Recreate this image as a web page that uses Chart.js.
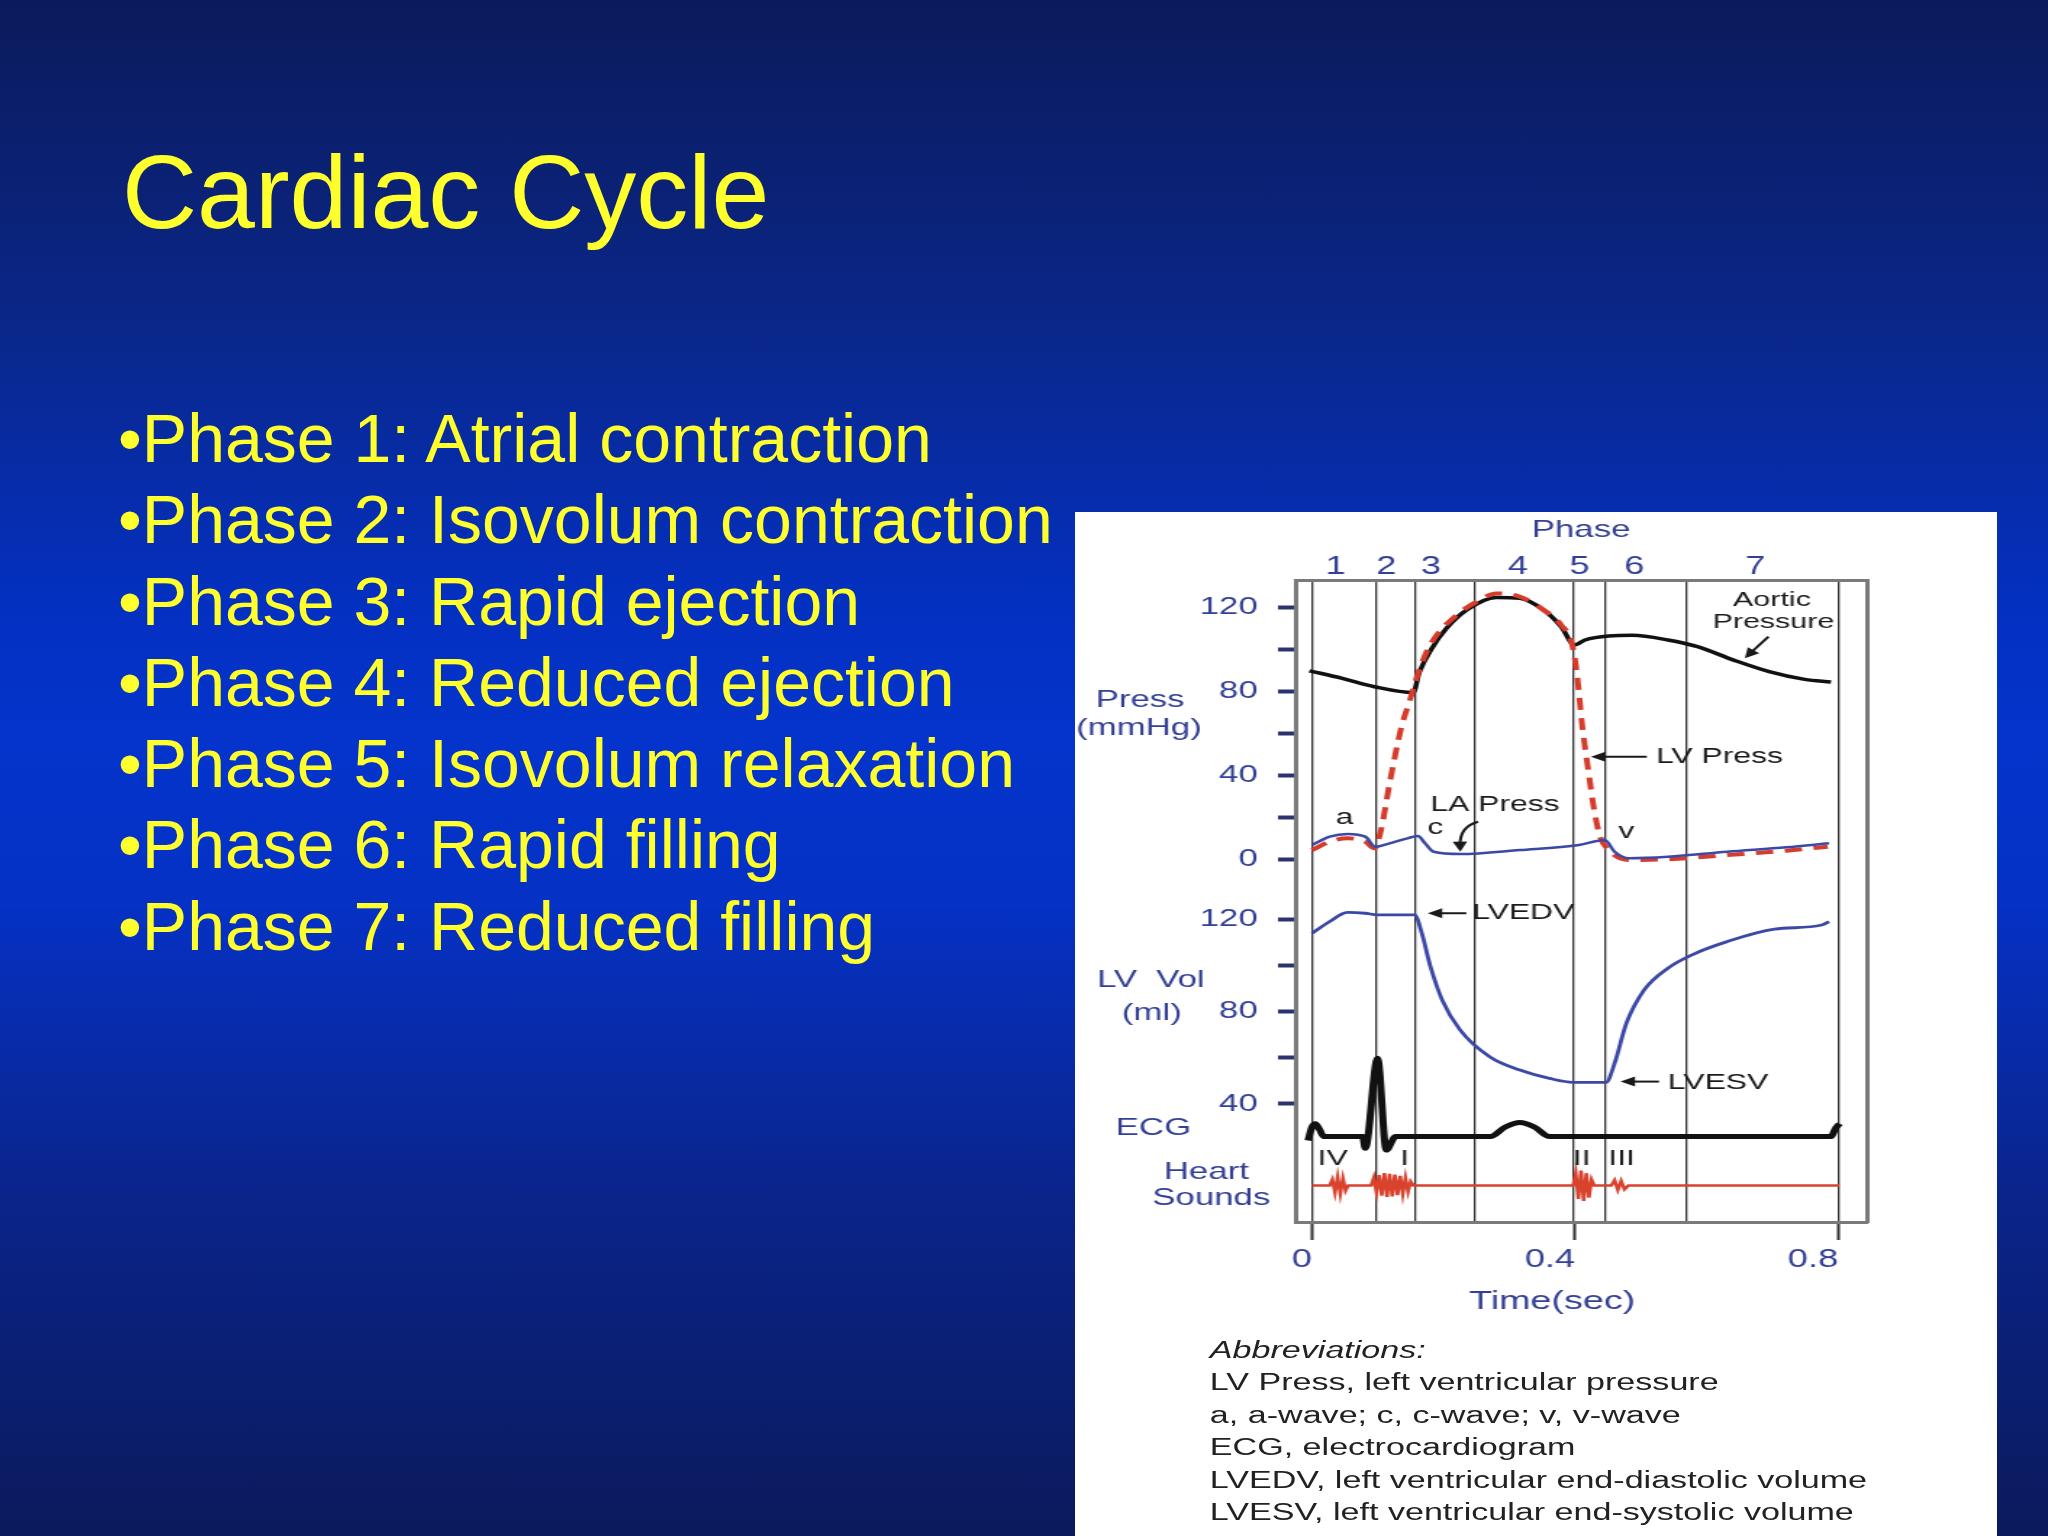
<!DOCTYPE html>
<html>
<head>
<meta charset="utf-8">
<title>Cardiac Cycle</title>
<script src="https://cdn.jsdelivr.net/npm/chart.js@4.4.1/dist/chart.umd.min.js"></script>
<style>
  html, body { margin: 0; padding: 0; }
  body {
    width: 2048px; height: 1536px; overflow: hidden; position: relative;
    background: linear-gradient(to bottom, #0b1a5b 0%, #0a2686 20%, #0430c0 39%, #0434cc 48%, #0531c4 59%, #0a248a 78%, #0b1a5c 100%);
    font-family: 'Liberation Sans', Arial, sans-serif;
  }
  #title { position: absolute; left: 122px; top: 140px; font-size: 104px; line-height: 104px; color: #ffff2e; }
  #phases { position: absolute; left: 118px; top: 398px; font-size: 68px; line-height: 81.3px; color: #ffff2e; white-space: nowrap; }
  #panel { position: absolute; left: 1075px; top: 512px; width: 922px; height: 1024px; background: #fff; overflow: hidden; }
  /* the original figure is a horizontally stretched bitmap */
  #stretch { position: absolute; left: 0; top: 0; width: 636px; height: 1024px; transform: scaleX(1.45); transform-origin: 0 0; }
  #chartBox { position: absolute; left: 0; top: 0; width: 636px; height: 820px; }
  #abbrev { position: absolute; left: 93px; top: 822px; font-size: 23.5px; line-height: 32.4px; color: #222; white-space: nowrap; }
  #abbrev i { font-style: italic; }
</style>
</head>
<body>
<div id="title">Cardiac Cycle</div>
<div id="phases">
  <div>•Phase 1: Atrial contraction</div>
  <div>•Phase 2: Isovolum contraction</div>
  <div>•Phase 3: Rapid ejection</div>
  <div>•Phase 4: Reduced ejection</div>
  <div>•Phase 5: Isovolum relaxation</div>
  <div>•Phase 6: Rapid filling</div>
  <div>•Phase 7: Reduced filling</div>
</div>
<div id="panel">
  <div id="stretch">
    <div id="chartBox"><canvas id="cycleChart"></canvas></div>
    <div id="abbrev">
      <i>Abbreviations:</i><br>
      LV Press, left ventricular pressure<br>
      a, a-wave; c, c-wave; v, v-wave<br>
      ECG, electrocardiogram<br>
      LVEDV, left ventricular end-diastolic volume<br>
      LVESV, left ventricular end-systolic volume
    </div>
  </div>
</div>

<script>
// time axis (sec)
const timeTicks = [0, 0.4, 0.8];
const phaseBounds = [0, 0.097, 0.156, 0.248, 0.397, 0.446, 0.570, 0.800];
const phaseNames = ['1', '2', '3', '4', '5', '6', '7'];
const phaseLabelAt = [0.036, 0.113, 0.181, 0.313, 0.407, 0.490, 0.674];
const pressTicks = [0, 20, 40, 60, 80, 100, 120];
const volTicks = [40, 60, 80, 100, 120];

// aortic pressure (mmHg)
const aorticTime = [-0.004, 0.046, 0.095, 0.154, 0.163, 0.181, 0.204, 0.235, 0.280, 0.316, 0.352, 0.379, 0.399, 0.415, 0.451, 0.487, 0.541, 0.586, 0.641, 0.695, 0.749, 0.789];
const aorticPress = [89.9, 86.3, 82.3, 79.5, 89.0, 100.0, 110.0, 118.9, 124.9, 124.5, 118.9, 110.9, 102.2, 104.6, 106.5, 106.8, 104.6, 101.4, 95.0, 89.5, 85.8, 84.6];

// left ventricular pressure (mmHg)
const lvTime = [0.0, 0.027, 0.054, 0.081, 0.095, 0.105, 0.118, 0.136, 0.149, 0.163, 0.181, 0.217, 0.253, 0.280, 0.316, 0.352, 0.379, 0.395, 0.402, 0.411, 0.420, 0.429, 0.438, 0.451, 0.482, 0.541, 0.631, 0.721, 0.784];
const lvPress = [4.4, 8.4, 10.0, 8.4, 5.2, 14.0, 36.2, 63.2, 76.0, 90.3, 103.0, 115.7, 123.3, 126.8, 125.2, 118.9, 111.7, 103.0, 90.3, 63.2, 42.6, 23.5, 10.8, 4.4, -0.3, 0.0, 2.0, 4.1, 6.0];

// left atrial pressure (mmHg)
const laTime = [0, 0.027, 0.054, 0.081, 0.096, 0.118, 0.145, 0.161, 0.172, 0.185, 0.226, 0.316, 0.406, 0.445, 0.460, 0.482, 0.541, 0.631, 0.721, 0.786];
const laPress = [6.8, 10.8, 12.1, 10.8, 6.0, 7.6, 10.0, 11.1, 7.6, 3.6, 2.5, 4.4, 6.8, 9.2, 3.6, 0.5, 1.2, 3.6, 5.7, 7.6];

// left ventricular volume (ml)
const volTime = [0, 0.027, 0.054, 0.081, 0.099, 0.156, 0.167, 0.180, 0.198, 0.225, 0.270, 0.316, 0.361, 0.397, 0.447, 0.460, 0.478, 0.505, 0.541, 0.577, 0.631, 0.703, 0.775, 0.786];
const volValues = [113.9, 119.0, 123.0, 122.6, 121.9, 121.9, 113.9, 99.5, 85.0, 72.1, 60.5, 54.7, 51.1, 49.4, 49.4, 57.6, 75.0, 89.4, 98.8, 104.5, 110.3, 115.7, 117.5, 119.0];

// ECG trace (relative units on a hidden 0-100 axis)
const ecgTime = [-0.006, 0.0, 0.005, 0.011, 0.018, 0.077, 0.081, 0.0997, 0.113, 0.127, 0.271, 0.294, 0.316, 0.338, 0.361, 0.789, 0.796, 0.802];
const ecgValues = [12.7, 14.8, 15.3, 14.5, 13.3, 13.3, 11.5, 25.5, 11.2, 13.3, 13.3, 14.8, 15.5, 14.8, 13.3, 13.3, 14.6, 15.3];

// heart sounds (relative units on the same hidden axis)
const soundTime = [0, 0.027, 0.031, 0.035, 0.039, 0.043, 0.047, 0.051, 0.055,
  0.090, 0.094, 0.098, 0.102, 0.106, 0.110, 0.114, 0.118, 0.122, 0.126, 0.130, 0.134, 0.138, 0.142, 0.146, 0.150, 0.154,
  0.397, 0.401, 0.405, 0.409, 0.413, 0.417, 0.421, 0.425, 0.429,
  0.455, 0.460, 0.465, 0.470, 0.475, 0.481, 0.802];
const soundValues = [5.7, 5.7, 6.6, 4.6, 7.0, 4.4, 6.8, 4.9, 5.7,
  5.7, 6.9, 4.6, 7.3, 4.1, 7.6, 3.9, 7.5, 4.0, 7.4, 4.2, 7.2, 4.4, 6.9, 4.7, 6.3, 5.7,
  5.7, 7.6, 3.6, 8.0, 3.3, 7.6, 3.8, 6.6, 5.7,
  5.7, 6.5, 5.0, 6.4, 5.1, 5.7, 5.7];

const pts = (ts, vs) => ts.map((t, i) => ({ x: t, y: vs[i] }));

const FONT = "'Liberation Sans', Arial, sans-serif";
const NAVY = '#323f94';
const INK = '#1a1a1a';

// text labels and arrows, placed in data coordinates
const notes = [
  { text: 'Aortic', x: 0.699, y: 123.7, axis: 'yP', size: 21 },
  { text: 'Pressure', x: 0.7015, y: 113.3, axis: 'yP', size: 21 },
  { text: 'LV Press', x: 0.523, y: 49, axis: 'yP', align: 'left' },
  { text: 'LA Press', x: 0.180, y: 25.9, axis: 'yP', align: 'left' },
  { text: 'a', x: 0.0496, y: 19.5, axis: 'yP' },
  { text: 'c', x: 0.1876, y: 14.8, axis: 'yP' },
  { text: 'v', x: 0.478, y: 13.2, axis: 'yP' },
  { text: 'LVEDV', x: 0.2435, y: 122.6, axis: 'yV', align: 'left' },
  { text: 'LVESV', x: 0.541, y: 49, axis: 'yV', align: 'left' },
  { text: 'IV', x: 0.0316, y: 9.9, axis: 'yE' },
  { text: 'I', x: 0.1407, y: 9.9, axis: 'yE' },
  { text: 'II', x: 0.410, y: 9.9, axis: 'yE' },
  { text: 'III', x: 0.4707, y: 9.9, axis: 'yE' },
  { text: 'Press', x: -0.2615, y: 76.0, axis: 'yP', color: NAVY, size: 24 },
  { text: '(mmHg)', x: -0.263, y: 62.5, axis: 'yP', color: NAVY, size: 24 },
  { text: 'LV  Vol', x: -0.245, y: 93.7, axis: 'yV', color: NAVY, size: 24 },
  { text: '(ml)', x: -0.2435, y: 79.3, axis: 'yV', color: NAVY, size: 24 },
  { text: 'ECG', x: -0.241, y: 14.6, axis: 'yE', color: NAVY, size: 24 },
  { text: 'Heart', x: -0.1605, y: 7.8, axis: 'yE', color: NAVY, size: 24 },
  { text: 'Sounds', x: -0.153, y: 3.7, axis: 'yE', color: NAVY, size: 24 },
  { text: 'Time(sec)', x: 0.365, y: -12.5, axis: 'yE', color: NAVY, size: 26 }
];
// cx/cy: optional control point for a curved shaft
const arrows = [
  { x1: 0.694, y1: 106.2, x2: 0.658, y2: 95.9, axis: 'yP' },
  { x1: 0.509, y1: 48.9, x2: 0.424, y2: 48.9, axis: 'yP' },
  { x1: 0.2525, y1: 17.9, x2: 0.2254, y2: 3.6, cx: 0.224, cy: 15.5, axis: 'yP' },
  { x1: 0.2345, y1: 122.6, x2: 0.176, y2: 122.6, axis: 'yV' },
  { x1: 0.5275, y1: 49.7, x2: 0.469, y2: 49.7, axis: 'yV' }
];

const notesPlugin = {
  id: 'notes',
  afterLayout(chart) {
    // volume ticks share the pressure axis column; widen its label area so labels are not clipped
    const yV = chart.scales.yV, yP = chart.scales.yP;
    yV.left = yP.left;
    yV.width = yV.right - yV.left;
  },
  afterDraw(chart) {
    const ctx = chart.ctx;
    const xs = chart.scales.x;
    ctx.save();
    notes.forEach(n => {
      const ys = chart.scales[n.axis];
      ctx.font = (n.size || 22) + 'px ' + FONT;
      ctx.fillStyle = n.color || INK;
      ctx.textAlign = n.align || 'center';
      ctx.textBaseline = 'middle';
      ctx.fillText(n.text, xs.getPixelForValue(n.x), ys.getPixelForValue(n.y));
    });
    ctx.strokeStyle = INK;
    ctx.fillStyle = INK;
    ctx.lineWidth = 2;
    arrows.forEach(a => {
      const ys = chart.scales[a.axis];
      const x1 = xs.getPixelForValue(a.x1), y1 = ys.getPixelForValue(a.y1);
      const x2 = xs.getPixelForValue(a.x2), y2 = ys.getPixelForValue(a.y2);
      let fromX = x1, fromY = y1;
      ctx.beginPath();
      ctx.moveTo(x1, y1);
      if (a.cx !== undefined) {
        fromX = xs.getPixelForValue(a.cx);
        fromY = ys.getPixelForValue(a.cy);
      }
      const ang = Math.atan2(y2 - fromY, x2 - fromX);
      const ex = x2 - 6 * Math.cos(ang), ey = y2 - 6 * Math.sin(ang);
      if (a.cx !== undefined) ctx.quadraticCurveTo(fromX, fromY, ex, ey);
      else ctx.lineTo(ex, ey);
      ctx.stroke();
      ctx.beginPath();
      ctx.moveTo(x2, y2);
      ctx.lineTo(x2 - 10 * Math.cos(ang) + 5 * Math.sin(ang), y2 - 10 * Math.sin(ang) - 5 * Math.cos(ang));
      ctx.lineTo(x2 - 10 * Math.cos(ang) - 5 * Math.sin(ang), y2 - 10 * Math.sin(ang) + 5 * Math.cos(ang));
      ctx.closePath();
      ctx.fill();
    });
    ctx.restore();
  }
};

const X_MIN = -0.0252, X_MAX = 0.8433;
const yTickStyle = { drawOnChartArea: false, tickLength: 12, tickWidth: 4, tickColor: '#2c3270' };

const ctx = document.getElementById('cycleChart').getContext('2d');
new Chart(ctx, {
  type: 'line',
  data: {
    datasets: [
      { label: 'LA Press', data: pts(laTime, laPress), yAxisID: 'yP', borderColor: '#3b48a6', borderWidth: 2.5 },
      { label: 'LV Press', data: pts(lvTime, lvPress), yAxisID: 'yP', borderColor: '#d63c2c', borderWidth: 4, borderDash: [12, 8] },
      { label: 'Aortic Pressure', data: pts(aorticTime, aorticPress), yAxisID: 'yP', borderColor: '#111', borderWidth: 3.5 },
      { label: 'LV Vol', data: pts(volTime, volValues), yAxisID: 'yV', borderColor: '#3b48a6', borderWidth: 2.8 },
      { label: 'ECG', data: pts(ecgTime, ecgValues), yAxisID: 'yE', borderColor: '#111', borderWidth: 5 },
      { label: 'Heart Sounds', data: pts(soundTime, soundValues), yAxisID: 'yE', borderColor: '#d9432e', borderWidth: 2.5, cubicInterpolationMode: 'default', tension: 0 }
    ]
  },
  options: {
    responsive: true,
    maintainAspectRatio: false,
    animation: false,
    layout: { padding: { left: 0, right: 90, top: 0, bottom: 10 } },
    elements: {
      point: { radius: 0 },
      line: { cubicInterpolationMode: 'monotone', fill: false }
    },
    plugins: { legend: { display: false }, tooltip: { enabled: false } },
    scales: {
      x: {
        type: 'linear', position: 'bottom', min: X_MIN, max: X_MAX,
        afterBuildTicks: s => { s.ticks = timeTicks.map(v => ({ value: v })); },
        afterFit: s => { s.height = 100; },
        grid: { drawOnChartArea: false, tickLength: 18, tickWidth: 2, tickColor: '#333' },
        border: { display: true, color: '#7a7a7a', width: 3 },
        ticks: { align: 'end', padding: 5, color: NAVY, font: { size: 25, family: FONT }, autoSkip: false, maxRotation: 0, callback: v => String(v) }
      },
      xLines: {
        type: 'linear', position: 'top', weight: 0, min: X_MIN, max: X_MAX,
        afterBuildTicks: s => { s.ticks = phaseBounds.map(v => ({ value: v })); },
        afterFit: s => { s.height = 0; },
        grid: { drawOnChartArea: true, drawTicks: false, color: '#333', lineWidth: 1.3 },
        border: { display: true, color: '#7a7a7a', width: 3 },
        ticks: { display: false }
      },
      xPhase: {
        type: 'linear', position: 'top', weight: 1, min: X_MIN, max: X_MAX,
        afterBuildTicks: s => { s.ticks = phaseLabelAt.map(v => ({ value: v })); },
        afterFit: s => { s.height = 68; },
        grid: { display: false, drawTicks: false },
        border: { display: false },
        title: { display: true, text: 'Phase', color: NAVY, font: { size: 24, family: FONT }, padding: { top: 4, bottom: 0 } },
        ticks: { padding: 0, color: NAVY, font: { size: 25, family: FONT, lineHeight: 1 }, autoSkip: false, maxRotation: 0, callback: (v, i) => phaseNames[i] }
      },
      yP: {
        type: 'linear', position: 'left', weight: 1, min: -173, max: 133.2,
        afterBuildTicks: s => { s.ticks = pressTicks.map(v => ({ value: v })); },
        afterFit: s => { s.width = 152; },
        grid: yTickStyle,
        border: { display: true, color: '#7a7a7a', width: 3 },
        ticks: { padding: 14, color: NAVY, font: { size: 24, family: FONT }, autoSkip: false, callback: v => (v % 40 === 0 ? String(v) : '') }
      },
      yV: {
        type: 'linear', position: 'left', weight: 0, min: -11.1, max: 266.9,
        afterBuildTicks: s => { s.ticks = volTicks.map(v => ({ value: v })); },
        afterFit: s => { s.width = 0; },
        grid: yTickStyle,
        border: { display: false },
        ticks: { padding: 14, color: NAVY, font: { size: 24, family: FONT }, autoSkip: false, callback: v => (v % 40 === 0 ? String(v) : '') }
      },
      yE: { type: 'linear', display: false, min: 0, max: 100 },
      yR: {
        type: 'linear', position: 'right', min: 0, max: 1,
        afterFit: s => { s.width = 0; },
        grid: { drawOnChartArea: false, drawTicks: false },
        border: { display: true, color: '#7a7a7a', width: 3 },
        ticks: { display: false }
      }
    }
  },
  plugins: [notesPlugin]
});
</script>
</body>
</html>
